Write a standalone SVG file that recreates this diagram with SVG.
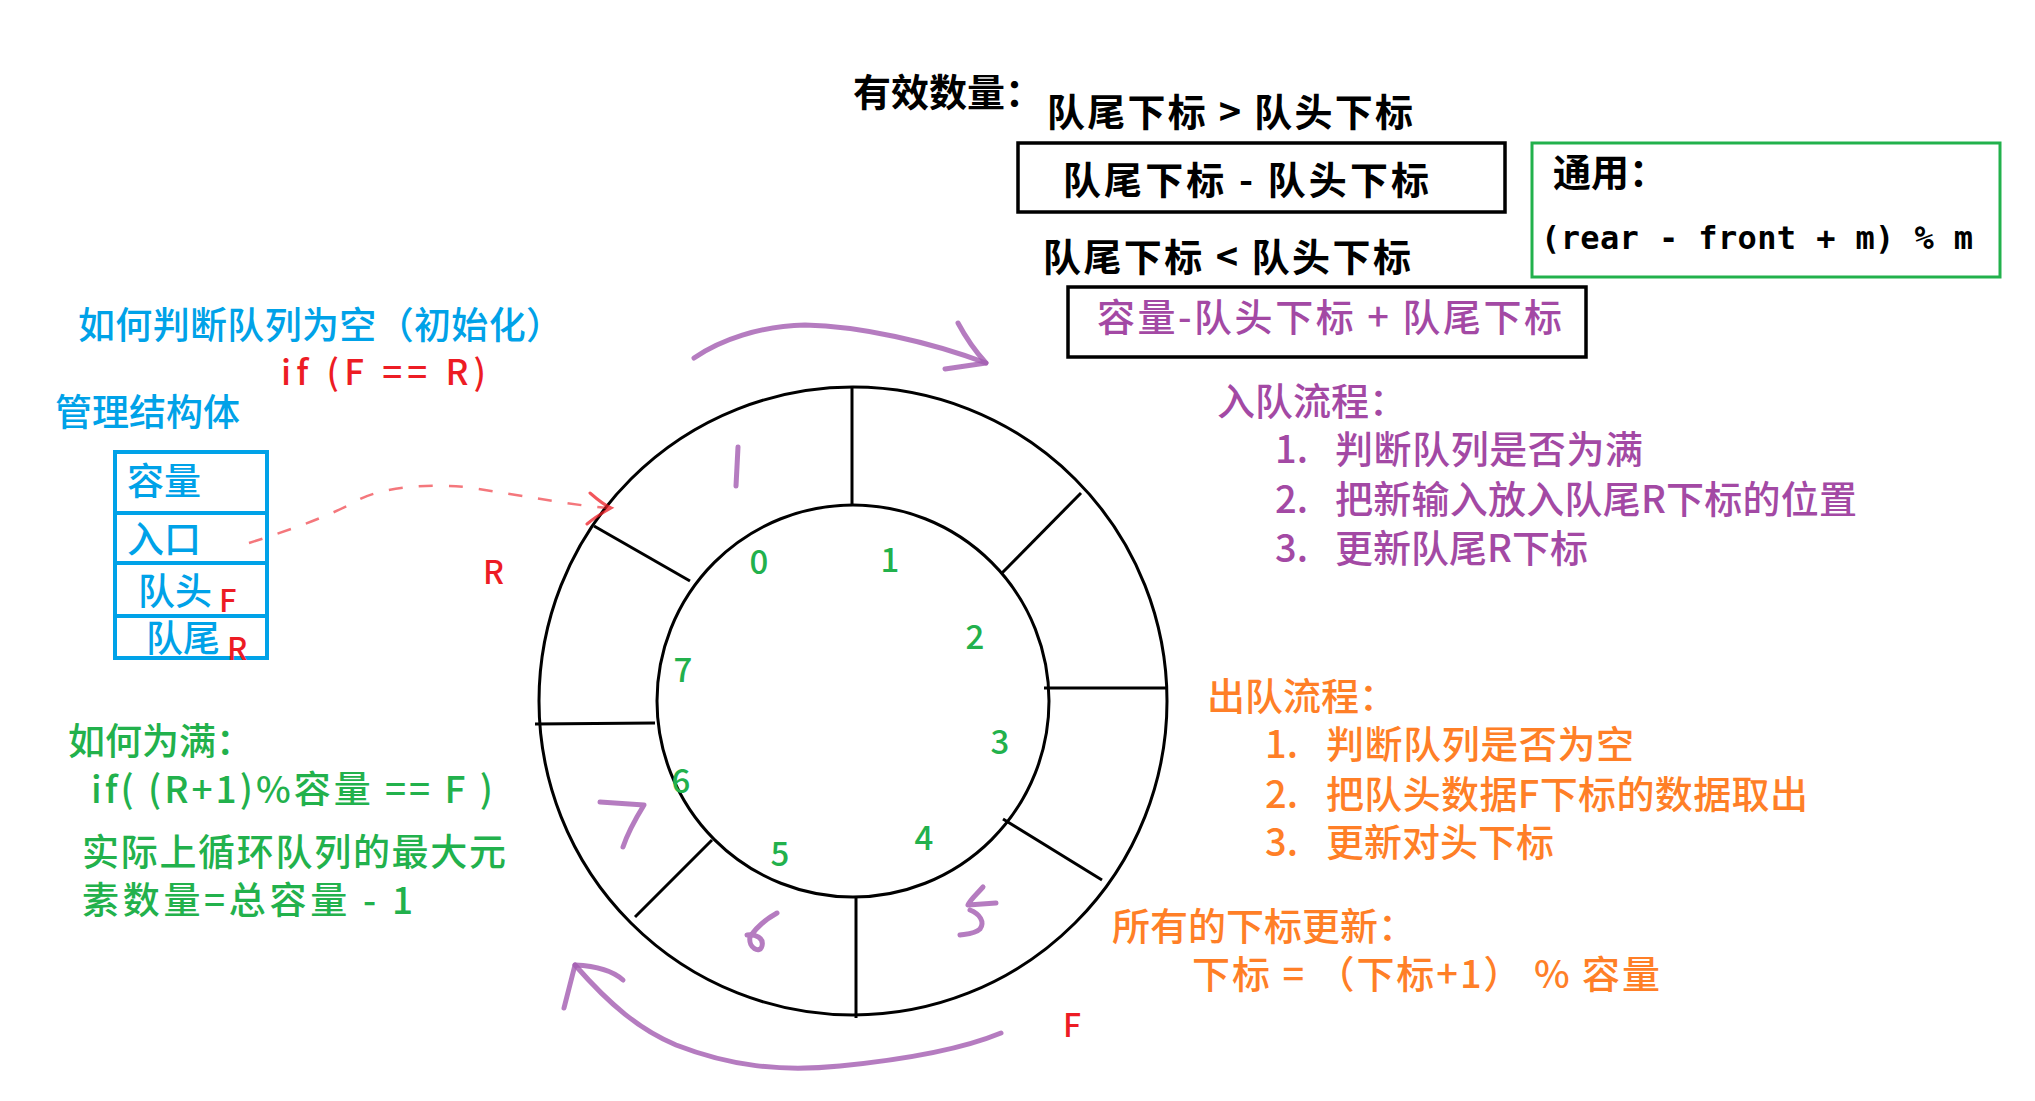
<svg xmlns="http://www.w3.org/2000/svg" width="2035" height="1101" viewBox="0 0 2035 1101">
<style>
text{font-family:"Noto Sans CJK SC","Noto Sans",sans-serif;}
.k{fill:#000;font-size:38px;font-weight:bold;}
.bl{fill:#00a2e8;font-size:37px;font-weight:500;}
.rd{fill:#ed1c24;font-weight:500;}
.gr{fill:#22b14c;font-size:37px;font-weight:500;}
.pu{fill:#a349a4;font-size:38px;font-weight:500;}
.or{fill:#ff7f27;font-size:38px;font-weight:500;}
.num{fill:#22b14c;font-size:33px;text-anchor:middle;font-weight:500;}
.mono{font-family:"DejaVu Sans Mono","Liberation Mono",monospace;font-weight:bold;font-size:32px;fill:#000;}
.ring{fill:none;stroke:#000;stroke-width:3;}
.box{fill:none;stroke:#000;stroke-width:3.5;}
.hand{fill:none;stroke:#a35bb0;stroke-opacity:0.8;stroke-width:5;stroke-linecap:round;stroke-linejoin:round;}
.dash{fill:none;stroke:#ed1c24;stroke-opacity:0.6;stroke-width:2.5;stroke-dasharray:14 16;}
</style>
<rect width="2035" height="1101" fill="#fff"/>

<g id="ring">
<circle class="ring" cx="853" cy="701" r="314"/>
<circle class="ring" cx="853" cy="701" r="196"/>
<line class="ring" x1="852" y1="387" x2="852" y2="505"/>
<line class="ring" x1="1081" y1="493" x2="1001" y2="574"/>
<line class="ring" x1="1044" y1="688" x2="1166" y2="688"/>
<line class="ring" x1="1003" y1="819" x2="1102" y2="880"/>
<line class="ring" x1="856" y1="896" x2="856" y2="1018"/>
<line class="ring" x1="712" y1="840" x2="635" y2="917"/>
<line class="ring" x1="535" y1="724" x2="655" y2="723"/>
<line class="ring" x1="594" y1="526" x2="690" y2="581"/>
<text class="num" x="759" y="574">0</text>
<text class="num" x="890" y="572">1</text>
<text class="num" x="975" y="649">2</text>
<text class="num" x="1000" y="754">3</text>
<text class="num" x="924" y="850">4</text>
<text class="num" x="780" y="866">5</text>
<text class="num" x="681" y="793">6</text>
<text class="num" x="683" y="682">7</text>
</g>

<g id="valid-count">
<text class="k" x="853" y="106">有效数量：</text>
<text class="k" x="1047" y="126" textLength="366" lengthAdjust="spacing">队尾下标 &gt; 队头下标</text>
<rect class="box" x="1018" y="143" width="487" height="69"/>
<text class="k" x="1063" y="194" textLength="366" lengthAdjust="spacing">队尾下标 - 队头下标</text>
<text class="k" x="1043" y="271" textLength="368" lengthAdjust="spacing">队尾下标 &lt; 队头下标</text>
<rect class="box" x="1068" y="287" width="518" height="70"/>
<text class="pu" x="1097" y="331" textLength="465" lengthAdjust="spacing">容量-队头下标 + 队尾下标</text>
</g>

<g id="general">
<rect x="1532" y="143" width="468" height="134" fill="none" stroke="#22b14c" stroke-width="3"/>
<text class="k" x="1553" y="186">通用：</text>
<text class="mono" x="1541" y="249" textLength="432" lengthAdjust="spacing">(rear - front + m) % m</text>
</g>

<g id="empty-check">
<text class="bl" x="78" y="339" textLength="485" lengthAdjust="spacing">如何判断队列为空（初始化）</text>
<text class="rd" x="281" y="385" font-size="35" textLength="205" lengthAdjust="spacing">if (F == R)</text>
</g>

<g id="struct">
<text class="bl" x="55" y="426" font-size="38">管理结构体</text>
<rect x="115" y="452" width="152" height="206" fill="none" stroke="#00a2e8" stroke-width="4"/>
<line x1="115" y1="513" x2="267" y2="513" stroke="#00a2e8" stroke-width="4"/>
<line x1="115" y1="563" x2="267" y2="563" stroke="#00a2e8" stroke-width="4"/>
<line x1="115" y1="616" x2="267" y2="616" stroke="#00a2e8" stroke-width="4"/>
<text class="bl" x="127" y="495" font-size="34">容量</text>
<text class="bl" x="127" y="553" font-size="34">入口</text>
<text class="bl" x="138" y="605" font-size="33">队头</text>
<text class="rd" x="219" y="612" font-size="31">F</text>
<text class="bl" x="146" y="652" font-size="33">队尾</text>
<text class="rd" x="227" y="660" font-size="31">R</text>
</g>

<g id="full-check">
<text class="gr" x="68" y="755" font-size="35">如何为满：</text>
<text class="gr" x="91" y="803" font-size="35" textLength="402" lengthAdjust="spacing">if( (R+1)%容量 == F )</text>
<text class="gr" x="82" y="866" font-size="38" textLength="424" lengthAdjust="spacing">实际上循环队列的最大元</text>
<text class="gr" x="82" y="914" font-size="38" textLength="331" lengthAdjust="spacing">素数量=总容量 - 1</text>
</g>

<g id="enqueue">
<text class="pu" x="1217" y="415">入队流程：</text>
<text class="pu" y="463"><tspan x="1275">1.</tspan><tspan x="1335" textLength="308" lengthAdjust="spacing">判断队列是否为满</tspan></text>
<text class="pu" y="513"><tspan x="1275">2.</tspan><tspan x="1335" textLength="522" lengthAdjust="spacing">把新输入放入队尾R下标的位置</tspan></text>
<text class="pu" y="562"><tspan x="1275">3.</tspan><tspan x="1335">更新队尾R下标</tspan></text>
</g>

<g id="dequeue">
<text class="or" x="1207" y="710">出队流程：</text>
<text class="or" y="758"><tspan x="1265">1.</tspan><tspan x="1326" textLength="308" lengthAdjust="spacing">判断队列是否为空</tspan></text>
<text class="or" y="808"><tspan x="1265">2.</tspan><tspan x="1326" textLength="482" lengthAdjust="spacing">把队头数据F下标的数据取出</tspan></text>
<text class="or" y="856"><tspan x="1265">3.</tspan><tspan x="1326">更新对头下标</tspan></text>
</g>

<g id="index-update">
<text class="or" x="1112" y="940">所有的下标更新：</text>
<text class="or" x="1192" y="988" textLength="468" lengthAdjust="spacing">下标 = （下标+1） % 容量</text>
</g>

<g id="labels">
<text class="rd" x="483" y="584" font-size="32">R</text>
<text class="rd" x="1063" y="1037" font-size="32">F</text>
</g>

<g id="connectors">
<path class="hand" d="M694,358 C720,340 760,326 805,325 C860,326 930,342 986,363" stroke-width="6"/>
<path class="hand" d="M958,323 C966,338 976,352 986,363 L945,369"/>
<path class="hand" d="M1001,1033 C960,1050 900,1060 840,1066 C780,1072 730,1066 676,1045 C640,1030 610,1005 575,965" stroke-width="6"/>
<path class="hand" d="M564,1008 L575,965 C595,966 612,970 623,980" stroke-width="6"/>
<path class="hand" d="M738,447 L736,486" stroke-width="4"/>
<path class="hand" d="M600,802 L644,805 C636,818 628,832 623,847" stroke-width="4"/>
<path class="hand" d="M777,913 C768,918 757,926 750,937 C748,948 760,954 762,946 C764,938 756,934 747,935" stroke-width="4"/>
<path class="hand" d="M983,887 C976,895 970,900 968,905 L996,903 M970,910 C980,914 985,922 980,929 C975,934 966,934 960,935" stroke-width="4"/>
<path class="dash" d="M249,543 C290,530 330,516 358,500 C385,486 430,484 465,487 C520,495 570,505 608,508"/>
<path d="M590,493 C598,500 604,505 611,508 C602,513 594,518 587,524" fill="none" stroke="#ed1c24" stroke-opacity="0.75" stroke-width="3" stroke-linecap="round"/>
</g>
</svg>
